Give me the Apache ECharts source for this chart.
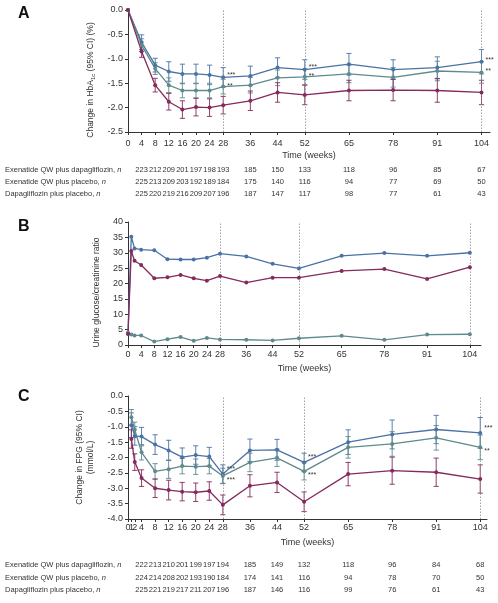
<!DOCTYPE html>
<html><head><meta charset="utf-8">
<script src="https://cdn.jsdelivr.net/npm/echarts@6/dist/echarts.min.js"></script>
<style>html,body{margin:0;padding:0;background:#fff}#c{width:498px;height:603px}</style>
</head><body><div id="c"></div>
<script>
// ---------- shared ----------
const tickWeeks = [0,4,8,12,16,20,24,28,36,44,52,65,78,91,104];
const tickWeeksC = [0,1,2,4,8,12,16,20,24,28,36,44,52,65,78,91,104];
const labelWeeksC = [0,2,4,8,12,16,20,24,28,36,44,52,65,78,91,104];
const labelWeeksC2 = [1];
const refWeeks = [28,52,104];
const seriesNames = ['Exenatide QW plus dapagliflozin','Exenatide QW plus placebo','Dapagliflozin plus placebo'];
const tableLabels = ['Exenatide QW plus dapagliflozin, ','Exenatide QW plus placebo, ','Dapagliflozin plus placebo, '];
const tableWeeks = [4,8,12,16,20,24,28,36,44,52,65,78,91,104];

// ---------- Panel A: HbA1c ----------
const weeksA = [0,4,8,12,16,20,24,28,36,44,52,65,78,91,104];
const hbaCombo   = [0,-0.85,-1.54,-1.88,-2.04,-1.99,-2.00,-1.95,-1.86,-1.69,-1.74,-1.65,-1.64,-1.65,-1.69];
const hbaComboCI = [0,0.12,0.14,0.17,0.18,0.18,0.18,0.18,0.20,0.20,0.20,0.21,0.22,0.24,0.25];
const hbaExen    = [0,-0.72,-1.20,-1.54,-1.65,-1.65,-1.65,-1.57,-1.54,-1.39,-1.37,-1.31,-1.38,-1.25,-1.28];
const hbaExenCI  = [0,0.13,0.12,0.15,0.15,0.15,0.15,0.15,0.16,0.16,0.16,0.18,0.20,0.20,0.22];
const hbaDapa    = [0,-0.66,-1.13,-1.26,-1.31,-1.31,-1.33,-1.38,-1.35,-1.18,-1.22,-1.11,-1.22,-1.18,-1.06];
const hbaDapaCI  = [0,0.15,0.14,0.20,0.20,0.20,0.20,0.20,0.20,0.20,0.20,0.22,0.20,0.22,0.25];
const hbaExenSig = ['','','','','','','','**','','','**','','','','**'];
const hbaDapaSig = ['','','','','','','','***','','','***','','','','***'];
const nA_combo = [223,212,209,201,197,198,193,185,150,133,118,96,85,67];
const nA_exen  = [225,213,209,203,192,189,184,175,140,116,94,77,69,50];
const nA_dapa  = [225,220,219,216,209,207,196,187,147,117,98,77,61,43];

// ---------- Panel B: urine glucose/creatinine ----------
const weeksB = [0,1,2,4,8,12,16,20,24,28,36,44,52,65,78,91,104];
const ugDapa  = [3.8,35.2,31.4,31.0,30.8,27.9,27.8,27.8,28.4,29.7,28.8,26.4,24.9,29.0,29.9,29.0,30.0];
const ugCombo = [3.6,30.6,27.4,26.0,21.7,22.0,22.8,21.7,20.9,22.4,20.3,21.9,21.9,24.1,24.7,21.5,25.3];
const ugExen  = [4.0,3.4,3.1,3.1,1.1,1.9,2.6,1.35,2.3,1.8,1.7,1.5,2.2,3.0,1.7,3.4,3.5];

// ---------- Panel C: FPG ----------
const weeksC = [1,2,4,8,12,16,20,24,28,36,44,52,65,78,91,104];
const fpgDapa    = [-0.95,-1.30,-1.32,-1.58,-1.77,-1.99,-1.92,-1.97,-2.54,-1.77,-1.75,-2.16,-1.50,-1.25,-1.09,-1.20];
const fpgDapaCI  = [0.40,0.30,0.30,0.32,0.33,0.30,0.30,0.30,0.30,0.37,0.34,0.30,0.40,0.47,0.46,0.50];
const fpgExen    = [-0.69,-1.10,-1.83,-2.45,-2.38,-2.28,-2.30,-2.28,-2.60,-2.16,-2.01,-2.45,-1.67,-1.56,-1.36,-1.67];
const fpgExenCI  = [0.25,0.25,0.25,0.25,0.30,0.25,0.25,0.25,0.25,0.30,0.28,0.28,0.35,0.40,0.40,0.40];
const fpgCombo   = [-1.40,-2.15,-2.67,-3.00,-3.06,-3.11,-3.13,-3.09,-3.54,-2.92,-2.81,-3.44,-2.54,-2.43,-2.48,-2.70];
const fpgComboCI = [0.30,0.27,0.27,0.30,0.32,0.30,0.30,0.30,0.32,0.36,0.33,0.32,0.38,0.44,0.46,0.46];
const fpgDapaSig = ['','','','','','','','','***','','','***','','','','***'];
const fpgExenSig = ['','','','','','','','','***','','','***','','','','**'];
const nC_combo = [222,213,210,201,199,197,194,185,149,132,118,96,84,68];
const nC_exen  = [224,214,208,202,193,190,184,174,141,116,94,78,70,50];
const nC_dapa  = [225,221,219,217,211,207,196,187,146,116,99,76,61,43];

// ---------- styling ----------
const FONT = 'Liberation Sans, Arial, Helvetica, sans-serif';
const C_DAPA = '#4a72a6', C_EXEN = '#5e8a8e', C_COMBO = '#842a5c';
const AX = '#333';

function pts(x, y){ return x.map((w,i)=>[w, y[i]]); }
function ptsSig(x, y, sig, offY){
  return x.map((w,i)=> sig[i] ? {value:[w,y[i]], label:{show:true, formatter:sig[i], position:'right', distance:2, offset:[0,offY], fontSize:7, color:'#333', fontFamily:FONT}} : [w,y[i]]);
}
function errData(x, y, ci){ return x.map((w,i)=>[w, y[i]-ci[i], y[i]+ci[i]]).filter((d,i)=>ci[i]>0); }

function errRender(params, api){
  const x = api.value(0), lo = api.value(1), hi = api.value(2);
  const p1 = api.coord([x, hi]), p2 = api.coord([x, lo]);
  const w = 2.6;
  const st = {stroke: api.visual('color'), lineWidth: 0.9, fill: null};
  return {type:'group', children:[
    {type:'line', shape:{x1:p1[0],y1:p1[1],x2:p2[0],y2:p2[1]}, style:st},
    {type:'line', shape:{x1:p1[0]-w,y1:p1[1],x2:p1[0]+w,y2:p1[1]}, style:st},
    {type:'line', shape:{x1:p2[0]-w,y1:p2[1],x2:p2[0]+w,y2:p2[1]}, style:st}
  ]};
}

function xAx(idx, max, ticks, labels, margin){
  return {
    type:'value', gridIndex: idx, min:0, max:max,
    name:'Time (weeks)', nameLocation:'middle', nameGap: 19,
    nameTextStyle:{fontSize:9, color:'#333', fontFamily:FONT},
    axisLine:{onZero:false, lineStyle:{color:AX, width:1}},
    axisTick:{customValues:ticks, length:3, lineStyle:{color:AX}},
    axisLabel:{customValues:labels, fontSize:9, color:'#333', margin:margin, fontFamily:FONT,
      hideOverlap:false, showMinLabel:true, showMaxLabel:true},
    splitLine:{show:false}
  };
}
function yAx(idx, min, max, interval, name, gap, fmt, pad, rich){
  return {
    type:'value', gridIndex: idx, min:min, max:max, interval:interval,
    name:name, nameLocation:'middle', nameGap:gap,
    nameTextStyle:{fontSize:8.5, color:'#333', fontFamily:FONT, lineHeight:11, padding:pad, rich:rich||{}},
    axisLine:{show:true, onZero:false, lineStyle:{color:AX, width:1}},
    axisTick:{show:true, length:3, lineStyle:{color:AX}},
    axisLabel:{fontSize:9, color:'#333', margin:5, fontFamily:FONT, formatter: fmt},
    splitLine:{show:false}
  };
}
const refLine = {
  silent:true, symbol:['none','none'], label:{show:false},
  lineStyle:{type:[1.5,1.5], color:'#8a8a8a', width:0.8},
  data: refWeeks.map(w=>({xAxis:w}))
};

function lineS(name, xi, data, color, sym, withRef){
  const s = {
    name:name, type:'line', xAxisIndex:xi, yAxisIndex:xi, data:data,
    symbol: sym, symbolSize:4, showSymbol:true,
    lineStyle:{color:color, width:1.3}, itemStyle:{color:color}, z:5, animation:false
  };
  if (withRef) s.markLine = refLine;
  return s;
}
function errS(xi, data, color){
  return {type:'custom', xAxisIndex:xi, yAxisIndex:xi, data:data, renderItem:errRender,
    itemStyle:{color:color}, z:3, animation:false, silent:true};
}

const chart = echarts.init(document.getElementById('c'), null, {renderer:'canvas'});
const f1 = v => v.toFixed(1);

// extra label-only axis for the crowded week-1 label of panel C
const xAxC2 = {
  type:'value', gridIndex:2, min:0, max:106, position:'bottom',
  axisLine:{show:false, onZero:false}, axisTick:{show:false}, splitLine:{show:false},
  axisLabel:{customValues:labelWeeksC2, fontSize:9, color:'#333', margin:4, fontFamily:FONT, hideOverlap:false}
};

chart.setOption({
  animation:false,
  textStyle:{fontFamily:FONT},
  grid:[
    {left:128, top:10, width:362, height:122},
    {left:128, top:222, width:353, height:123},
    {left:128, top:396, width:359, height:123}
  ],
  xAxis:[ xAx(0, 106.5, tickWeeks, tickWeeks, 7), xAx(1, 107.4, tickWeeks, tickWeeks, 5), xAx(2, 106, tickWeeksC, labelWeeksC, 4), xAxC2 ],
  yAxis:[
    yAx(0, -2.5, 0, 0.5, 'Change in HbA{s|1c} (95% CI) (%)', 31, f1, [0,18,0,0], {s:{fontSize:6, verticalAlign:'bottom', color:'#333'}}),
    yAx(1, 0, 40, 5, 'Urine glucose/creatinine ratio', 25, v=>String(v), [0,18,0,0]),
    yAx(2, -4, 0, 0.5, 'Change in FPG (95% CI)\n(mmol/L)', 17, f1, [0,0,0,0])
  ],
  series:[
    // A
    errS(0, errData(weeksA, hbaDapa, hbaDapaCI), C_DAPA),
    errS(0, errData(weeksA, hbaExen, hbaExenCI), C_EXEN),
    errS(0, errData(weeksA, hbaCombo, hbaComboCI), C_COMBO),
    lineS(seriesNames[2], 0, ptsSig(weeksA, hbaDapa, hbaDapaSig, -2), C_DAPA, 'circle', true),
    lineS(seriesNames[1], 0, ptsSig(weeksA, hbaExen, hbaExenSig, -1), C_EXEN, 'circle', false),
    lineS(seriesNames[0], 0, pts(weeksA, hbaCombo), C_COMBO, 'circle', false),
    // B
    lineS(seriesNames[2], 1, pts(weeksB, ugDapa), C_DAPA, 'circle', true),
    lineS(seriesNames[1], 1, pts(weeksB, ugExen), C_EXEN, 'circle', false),
    lineS(seriesNames[0], 1, pts(weeksB, ugCombo), C_COMBO, 'circle', false),
    // C
    errS(2, errData(weeksC, fpgDapa, fpgDapaCI), C_DAPA),
    errS(2, errData(weeksC, fpgExen, fpgExenCI), C_EXEN),
    errS(2, errData(weeksC, fpgCombo, fpgComboCI), C_COMBO),
    lineS(seriesNames[2], 2, ptsSig(weeksC, fpgDapa, fpgDapaSig, -5), C_DAPA, 'circle', true),
    lineS(seriesNames[1], 2, ptsSig(weeksC, fpgExen, fpgExenSig, 4), C_EXEN, 'circle', false),
    lineS(seriesNames[0], 2, pts(weeksC, fpgCombo), C_COMBO, 'circle', false)
  ]
});

// panel letters and n-tables as text, columns placed through the axes
const graphics = [];
[['A',14],['B',227],['C',397]].forEach(([t,y])=>{
  graphics.push({type:'text', left:18, top:y-8, style:{text:t, fontSize:16, fontWeight:'bold', fill:'#111', fontFamily:FONT}});
});
function table(xi, rowsY, nRows){
  nRows.forEach((row, r)=>{
    graphics.push({type:'text', x:5, y:rowsY[r], style:{
      text: tableLabels[r] + '{i|n}', fontSize:7.5, fill:'#333', fontFamily:FONT, verticalAlign:'middle',
      rich:{i:{fontStyle:'italic', fontSize:7.5, fill:'#333', fontFamily:FONT}}}});
    row.forEach((n, c)=>{
      const px = chart.convertToPixel({xAxisIndex:xi}, tableWeeks[c]);
      graphics.push({type:'text', x:px, y:rowsY[r], style:{text:String(n), fontSize:7.5, fill:'#333', fontFamily:FONT, align:'center', verticalAlign:'middle'}});
    });
  });
}
table(0, [170,182,194], [nA_combo, nA_exen, nA_dapa]);
table(2, [565,578,590], [nC_combo, nC_exen, nC_dapa]);
chart.setOption({graphic: graphics});
</script>
</body></html>
